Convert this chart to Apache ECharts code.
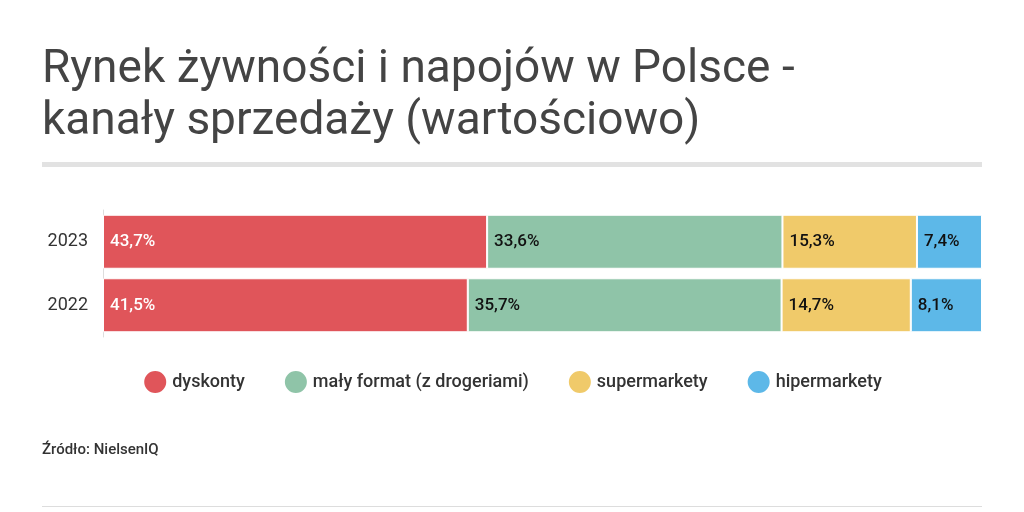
<!DOCTYPE html>
<html><head><meta charset="utf-8">
<script src="https://cdn.jsdelivr.net/npm/echarts@6/dist/echarts.min.js"></script>
<style>html,body{margin:0;padding:0;background:#fff}#c{width:1024px;height:512px}</style>
</head><body><div id="c"></div>
<script>
const years = ['2022', '2023'];
const seriesNames = ['dyskonty', 'mały format (z drogeriami)', 'supermarkety', 'hipermarkety'];
const dyskonty = [41.5, 43.7];
const malyFormat = [35.7, 33.6];
const supermarkety = [14.7, 15.3];
const hipermarkety = [8.1, 7.4];
const colors = ['#e0555a', '#8fc4a8', '#f0ca6a', '#5db8e8'];
const labelColors = ['#fff', '#111', '#111', '#111'];
const values = [dyskonty, malyFormat, supermarkety, hipermarkety];

const chart = echarts.init(document.getElementById('c'));
chart.setOption({
  textStyle: {fontFamily: 'Roboto'},
  animation: false,
  grid: {left: 103, right: 42, top: 210, height: 127},
  xAxis: {type: 'value', min: 0, max: 100, show: false},
  yAxis: {type: 'category', data: years,
    axisLine: {lineStyle: {color: '#ddd'}}, axisTick: {show: false},
    axisLabel: {color: '#333', fontSize: 18, margin: 15}},
  legend: {bottom: 112, left: 'center', icon: 'circle', itemWidth: 24, itemHeight: 24, itemGap: 38,
    textStyle: {fontSize: 18, color: '#333', fontWeight: 500}, data: seriesNames},
  series: seriesNames.map((n, i) => ({
    name: n, type: 'bar', stack: 's', barWidth: 54,
    itemStyle: {color: colors[i], borderColor: '#fff', borderWidth: 1},
    label: {show: true, position: 'insideLeft', offset: [2, 0], color: labelColors[i], fontSize: 17, fontWeight: 500,
      formatter: p => p.value.toFixed(1).replace('.', ',') + '%'},
    data: values[i]
  })),
  graphic: [
    {type: 'text', left: 42, top: 44, style: {text: 'Rynek żywności i napojów w Polsce -\nkanały sprzedaży (wartościowo)', fontSize: 46, lineHeight: 52, fill: '#444', fontFamily: 'Roboto'}},
    {type: 'rect', shape: {x: 42, y: 162, width: 940, height: 5}, style: {fill: '#e2e2e2'}},
    {type: 'text', left: 42, top: 443, style: {text: 'Źródło: NielsenIQ', fontSize: 15, fontWeight: 500, fill: '#333', fontFamily: 'Roboto'}},
    {type: 'rect', shape: {x: 42, y: 506, width: 940, height: 1}, style: {fill: '#ddd'}}
  ]
});
</script></body></html>
